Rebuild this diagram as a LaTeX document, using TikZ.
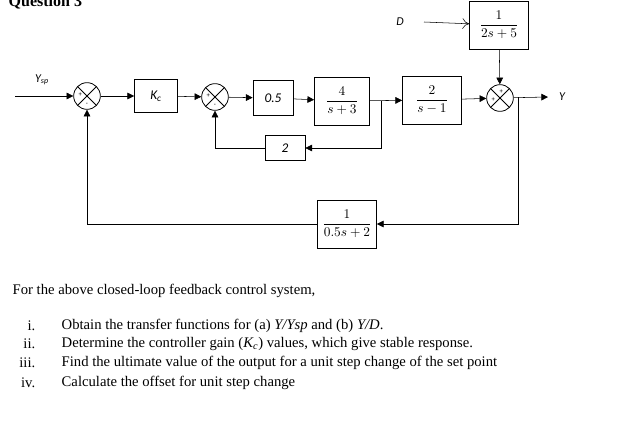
\documentclass[tikz,border=0pt]{standalone}
\usepackage{amsmath}
\usepackage{fontspec}
\setmainfont{Liberation Serif}
\newfontfamily\blk{Carlito}
\usetikzlibrary{arrows.meta}
\begin{document}
\begin{tikzpicture}[
    x=0.75pt,y=-0.75pt,
    blk/.style={draw,semithick,minimum width=#1*0.75pt,minimum height=36pt,inner sep=1pt,font=\blk\normalsize},
    sum/.style={draw,semithick,circle,minimum size=20pt,inner sep=0pt,
      path picture={\draw (path picture bounding box.north west)--(path picture bounding box.south east)
        (path picture bounding box.north east)--(path picture bounding box.south west);}},
    sgn/.style={font=\blk\tiny,inner sep=0pt},
    arr/.style={-{Triangle[length=5pt,width=5pt]}},
    txt/.style={anchor=west,font=\fontsize{11}{13}\selectfont}
    ]
    \useasboundingbox (0,0) rectangle (640,421);
    \node[anchor=west,font=\large\bfseries] at (4,2) {Question 3};
    % blocks
    \node[sum] (s1) at (87,96) {};
    \node[blk=43,minimum height=25pt] (kc) at (156,96) {\itshape K\textsubscript{c}};
    \node[sum] (s2) at (215,97) {};
    \node[blk=40,minimum height=26pt] (g1) at (273,98) {\itshape 0.5};
    \node[blk=55] (g2) at (342,101) {$\dfrac{4}{s+3}$};
    \node[blk=59] (g3) at (432,100) {$\dfrac{2}{s-1}$};
    \node[sum] (s3) at (500,98) {};
    \node[blk=59] (gd) at (499,25) {$\dfrac{1}{2s+5}$};
    \node[blk=40,minimum height=19pt] (h1) at (285,148) {\itshape 2};
    \node[blk=59] (h2) at (347,224) {$\dfrac{1}{0.5s+2}$};
    % signs
    \node[sgn] at ([xshift=-5pt,yshift=1pt]s1.center) {+};
    \node[sgn] at ([yshift=-6pt]s1.center) {-};
    \node[sgn] at ([xshift=-5pt,yshift=1pt]s2.center) {+};
    \node[sgn] at ([yshift=-6pt]s2.center) {-};
    \node[sgn] at ([xshift=-5pt,yshift=-1pt]s3.center) {+};
    \node[sgn] at ([xshift=1pt,yshift=5pt]s3.center) {+};
    % labels
    \node[font=\blk\small\itshape] (ysp) at (42,80) {Y\textsubscript{sp}};
    \node[font=\blk\small\itshape] (d) at (400,22) {D};
    \node[font=\blk\small\itshape] (y) at (562,97) {Y};
    \coordinate (in) at (15,96);
    \coordinate (dn) at (424,22);
    \coordinate (out) at (548,97);
    \coordinate (b1) at (381,101);
    \coordinate (b2) at (518,97);
    % connectors
    \draw[arr] (in) -- (s1);
    \draw[arr] (s1) -- (kc);
    \draw[arr] (kc) -- (s2);
    \draw[arr] (s2) -- (g1);
    \draw[arr] (g1) -- (g2);
    \draw[arr] (g2) -- (g3);
    \draw[arr] (g3) -- (s3);
    \draw[arr] (s3) -- (out);
    \draw[-{To[length=5pt,width=8pt]}] (dn) -- (gd);
    \draw[arr] (gd) -- (s3);
    \draw[arr] (b1) |- (h1);
    \draw[arr] (h1) -| (s2);
    \draw[arr] (b2) |- (h2);
    \draw[arr] (h2) -| (s1);
    % text
    \node[txt] at (8,291) {For the above closed-loop feedback control system,};
    \node[txt,anchor=east] at (40,326) {i.};
    \node[txt,anchor=east] at (40,344) {ii.};
    \node[txt,anchor=east] at (40,363) {iii.};
    \node[txt,anchor=east] at (40,383) {iv.};
    \node[txt] at (57,326) {Obtain the transfer functions for (a) \textit{Y/Ysp} and (b) \textit{Y/D}.};
    \node[txt] at (57,344) {Determine the controller gain (\textit{K\textsubscript{c}}) values, which give stable response.};
    \node[txt] at (57,363) {Find the ultimate value of the output for a unit step change of the set point};
    \node[txt] at (57,383) {Calculate the offset for unit step change};
\end{tikzpicture}
\end{document}
